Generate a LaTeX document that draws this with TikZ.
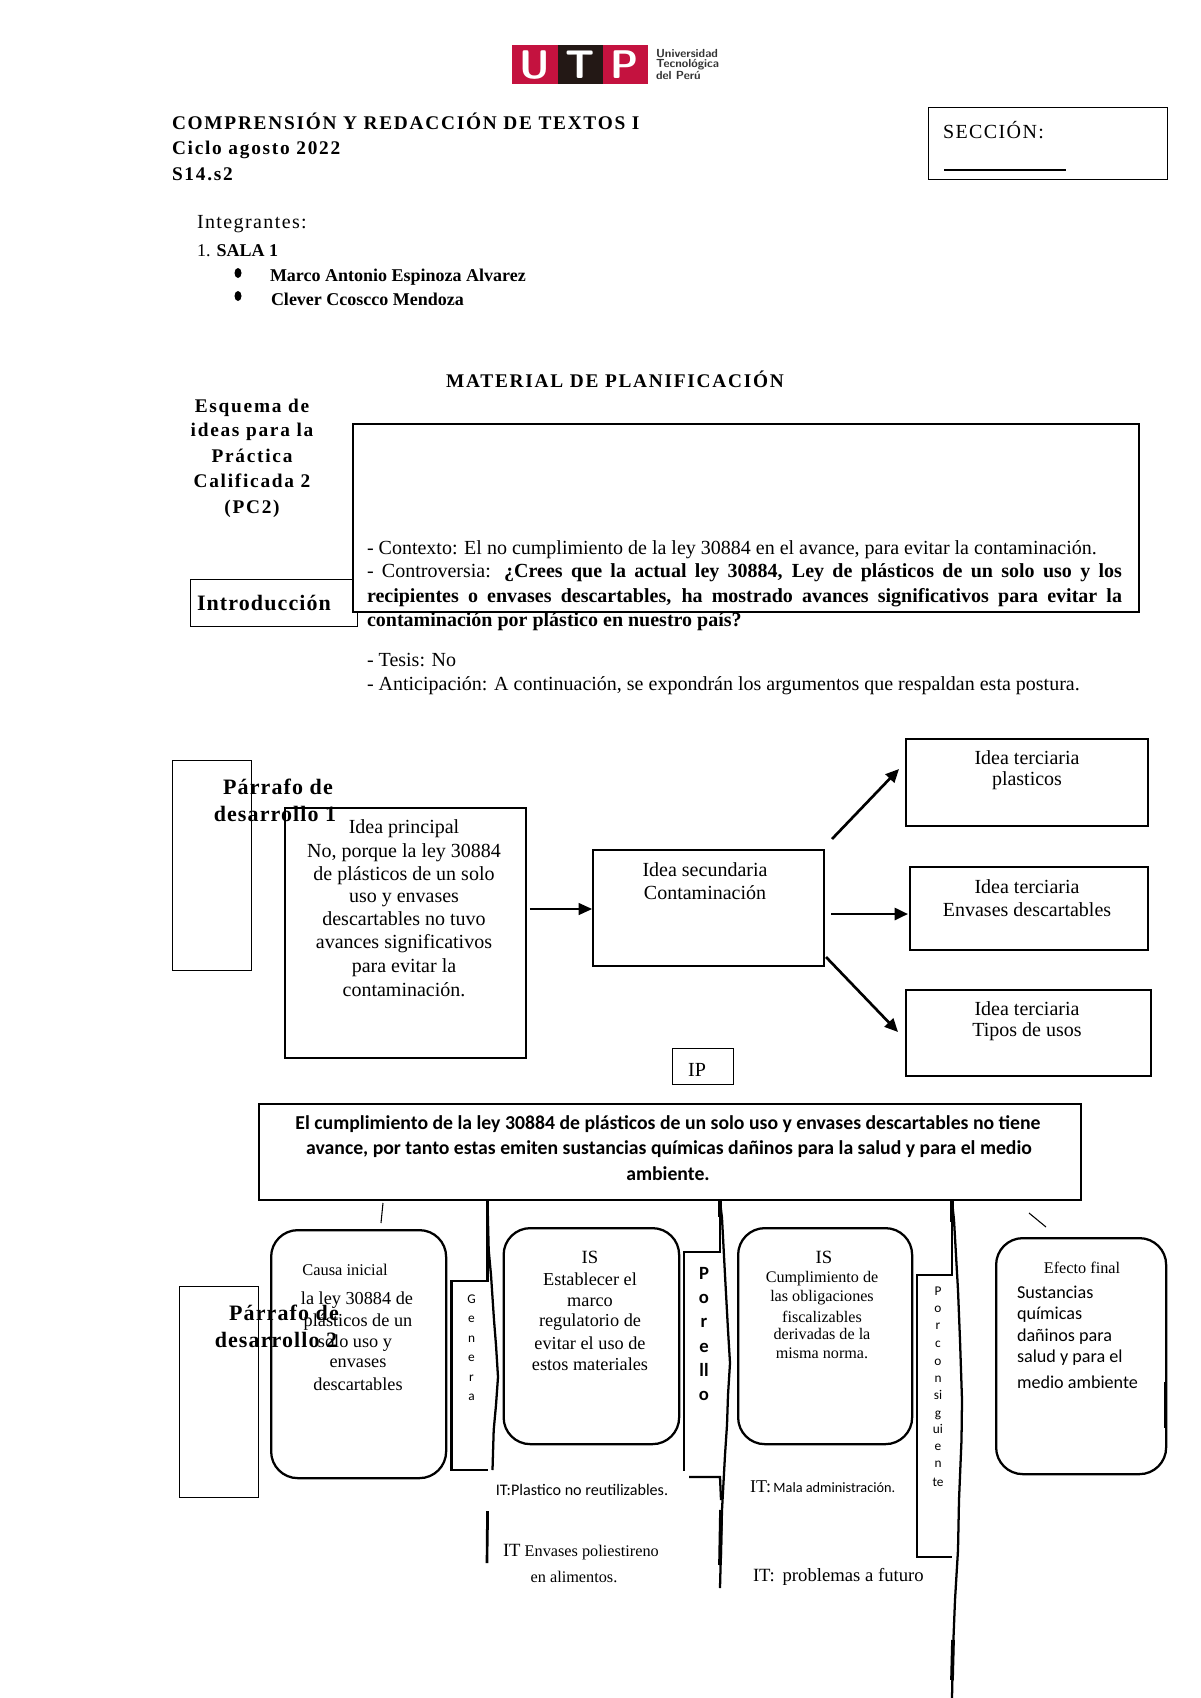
\documentclass[tikz,border=0pt]{standalone}
\usepackage{fontspec}
\setmainfont{Liberation Serif}
\newfontfamily\calib{Carlito}
\usetikzlibrary{arrows.meta}
\definecolor{utpred}{HTML}{C4123F}
\definecolor{utpblack}{HTML}{231815}
\newcommand{\fs}[1]{\fontsize{#1}{#1}\selectfont}
\newcommand{\fsl}[2]{\fontsize{#1}{#2}\selectfont}
\newcommand{\lsp}[1]{\addfontfeatures{LetterSpace=#1}}
\tikzset{
 txt/.style={inner sep=0pt,outer sep=0pt,font=\fs{15}},
 lt/.style={txt,anchor=west},
 ct/.style={txt,anchor=center,align=center},
 hd/.style={lt,font=\fs{14.5}\bfseries\lsp{9}},
 chd/.style={ct,font=\fs{14.5}\bfseries\lsp{9}},
 big head/.style={ct,font=\fs{16.5}\bfseries\lsp{5}},
 wide/.style={lt,font=\fs{15}\lsp{7}},
 thin box/.style={draw,line width=0.9pt,inner sep=0pt,anchor=north west},
 thick box/.style={draw,line width=1.7pt,inner sep=0pt,anchor=north west},
 rbox/.style={draw,line width=1.7pt,rounded corners=20pt},
 arr/.style={line width=#1,-{Triangle[length=10pt,width=9pt]}},
 arr/.default=2pt,
 brace/.style={line width=1.7pt},
 stub/.style={line width=2.8pt},
 letter/.style={txt,anchor=center,font=\calib\fs{10}},
 bletter/.style={txt,anchor=center,font=\calib\bfseries\fs{14}},
 cellbig/.style={ct,font=\fs{13.7}},
 cellmid/.style={ct,font=\fs{12.1}},
 thesis/.style={ct,font=\calib\bfseries\fs{14.8}},
 effect/.style={lt,font=\calib\fs{13.6}},
 logoletter/.style={txt,font=\fs{30}\bfseries\sffamily,text=white},
 logoname/.style={lt,font=\sffamily\bfseries\fs{8.8},text=black!80},
}
\newcommand{\boxat}[6]{\node[#1,minimum width=#4*0.75pt-#2*0.75pt,minimum height=#5*0.75pt-#3*0.75pt] (#6) at (#2,#3) {};}
\begin{document}
\begin{tikzpicture}[x=0.75pt,y=-0.75pt]
\useasboundingbox (0,0) rectangle (1200,1698);
% logo
\fill[utpred] (512,45) rectangle (648,84);
\fill[utpblack] (558,45) rectangle (603,84);
\node[logoletter] (lu) at (535,65) {U};
\node[logoletter] (lt) at (580,65) {T};
\node[logoletter] (lp) at (625,65) {P};
\node[logoname] (ln1) at (656,54) {Universidad};
\node[logoname] (ln2) at (656,65) {Tecnológica};
\node[logoname] (ln3) at (656,75) {del Perú};
% header
\node[hd] (t1) at (172,121) {COMPRENSIÓN Y REDACCIÓN DE TEXTOS I};
\node[hd] (t2) at (172,150) {Ciclo agosto 2022};
\node[hd] (t3) at (172,174) {S14.s2};
\boxat{thin box}{928}{107}{1167}{179}{sec}
\node[wide] (sect) at (943,130) {SECCIÓN:};
\coordinate (ula) at (944,170); \coordinate (ulb) at (1066,170);
\draw[line width=0.9pt] (ula) -- (ulb);
\node[wide] (int) at (197,224) {Integrantes:};
\node[lt,font=\fs{13.5}] (sala) at (197,251) {1. \textbf{SALA 1}};
\fill (238,273) ellipse (3.5 and 5);
\fill (238,296) ellipse (3.5 and 5);
\node[lt,font=\fs{13.5}\bfseries] (m1) at (270,277) {Marco Antonio Espinoza Alvarez};
\node[lt,font=\fs{13.5}\bfseries] (m2) at (271,299) {Clever Ccoscco Mendoza};
\node[chd] (mat) at (615,379) {MATERIAL DE PLANIFICACIÓN};
\node[chd] (e1) at (252,408) {Esquema de};
\node[chd] (e2) at (252,432) {ideas para la};
\node[chd] (e3) at (252,456) {Práctica};
\node[chd] (e4) at (252,481) {Calificada 2};
\node[chd] (e5) at (252,509) {(PC2)};
% intro
\boxat{thin box}{190}{579}{357}{626}{introbox}
\boxat{thick box,fill=white}{352}{423}{1138}{611}{ctx}
\node[big head,anchor=west] (introt) at (197,603) {Introducción};
\node[lt] (c1) at (367,550) {- Contexto: El no cumplimiento de la ley 30884 en el avance, para evitar la contaminación.};
\node[txt,anchor=north west,text width=755*0.75pt,align=justify,font=\fsl{15}{18.4}] (c2) at (367,564) {- Controversia: \textbf{¿Crees que la actual ley 30884, Ley de plásticos de un solo uso y los\linebreak recipientes o envases descartables, ha mostrado avances significativos para evitar la\linebreak contaminación por plástico en nuestro país?}};
\node[lt] (c3) at (367,660) {- Tesis: No};
\node[lt] (c4) at (367,686) {- Anticipación: A continuación, se expondrán los argumentos que respaldan esta postura.};
% parrafo 1
\boxat{thin box}{172}{760}{251}{970}{p1}
\boxat{thick box}{284}{807}{525}{1057}{ip}
\node[big head] (p1a) at (278,787) {Párrafo de};
\node[big head] (p1b) at (275,814) {desarrollo 1};
\node[ct] (ip1) at (404,829) {Idea principal};
\node[ct] (ip2) at (404,853) {No, porque la ley 30884};
\node[ct] (ip3) at (404,876) {de plásticos de un solo};
\node[ct] (ip4) at (404,900) {uso y envases};
\node[ct] (ip5) at (404,919) {descartables no tuvo};
\node[ct] (ip6) at (404,944) {avances significativos};
\node[ct] (ip7) at (404,968) {para evitar la};
\node[ct] (ip8) at (404,990) {contaminación.};
\boxat{thick box}{592}{849}{823}{965}{is}
\node[ct] (is1) at (705,870) {Idea secundaria};
\node[ct] (is2) at (705,893) {Contaminación};
\boxat{thick box}{905}{738}{1147}{825}{t1b}
\node[ct] (t1a) at (1027,758) {Idea terciaria};
\node[ct] (t1c) at (1027,781) {plasticos};
\boxat{thick box}{909}{866}{1147}{949}{t2b}
\node[ct] (t2a) at (1027,887) {Idea terciaria};
\node[ct] (t2c) at (1027,910) {Envases descartables};
\boxat{thick box}{905}{989}{1150}{1075}{t3b}
\node[ct] (t3a) at (1027,1009) {Idea terciaria};
\node[ct] (t3c) at (1027,1032) {Tipos de usos};
\draw[arr=0.8pt,shorten <=2pt] (ip.east |- 0,909) -- (is.west |- 0,909);
\coordinate (a1s) at (832,839); \coordinate (a1e) at (899,769);
\coordinate (a2s) at (831,914); \coordinate (a2e) at (908,914);
\coordinate (a3s) at (826,957); \coordinate (a3e) at (898,1032);
\draw[arr] (a1s) -- (a1e);
\draw[arr] (a2s) -- (a2e);
\draw[arr] (a3s) -- (a3e);
\boxat{thin box}{672}{1048}{733}{1084}{ipb}
\node[ct] (ipt) at (697,1070) {IP};
% tesis box
\boxat{thick box}{258}{1103}{1080}{1199}{big}
\node[thesis] (b1) at (668,1124) {El cumplimiento de la ley 30884 de plásticos de un solo uso y envases descartables no tiene};
\node[thesis] (b2) at (669,1149) {avance, por tanto estas emiten sustancias químicas dañinos para la salud y para el medio};
\node[thesis] (b3) at (668,1174) {ambiente.};
% parrafo 2
\boxat{thin box}{179}{1286}{258}{1497}{p2}
\node[rbox,minimum width=175*0.75pt,minimum height=248*0.75pt,anchor=north west,inner sep=0pt] (ci) at (270,1229) {};
\node[big head] (p2a) at (284,1313) {Párrafo de};
\node[big head] (p2b) at (276,1340) {desarrollo 2};
\node[ct,font=\fs{12.3}] (ci0) at (345,1270) {Causa inicial};
\node[cellbig] (ci1) at (357,1300) {la ley 30884 de};
\node[cellbig] (ci2) at (358,1322) {plásticos de un};
\node[cellbig] (ci3) at (355,1343) {solo uso y};
\node[cellbig] (ci4) at (358,1363) {envases};
\node[cellbig] (ci5) at (358,1384) {descartables};
\coordinate (k1a) at (383,1203); \coordinate (k1b) at (381,1223);
\draw[line width=0.8pt] (k1a) -- (k1b);
% genera
\coordinate (g0) at (487.5,1199); \coordinate (g1) at (488,1470); \coordinate (g2) at (487.5,1262);
\draw[brace] (g0 |- big.south) -- (487.5,1281) -- (451.6,1281) -- (451.6,1470) -- (g1);
\draw[brace] (g0 |- big.south) -- (488.7,1250) -- (491,1275) -- (494,1320) -- (496,1345) -- (498,1377) -- (496,1405) -- (493.7,1430) -- (492.5,1470);
\draw[stub] (g0) -- (g2);
\foreach \n/\l/\y in {a/G/1299,b/e/1319,c/n/1339,d/e/1358,e/r/1378,f/a/1397} \node[letter] (g\n) at (471.5,\y) {\l};
% IS 1
\node[rbox,minimum width=175.5*0.75pt,minimum height=216*0.75pt,anchor=north west,inner sep=0pt] (is1b) at (502.5,1227) {};
\node[ct,font=\fs{14}] (s1a) at (590,1257) {IS};
\node[cellbig] (s1b) at (590,1279) {Establecer el};
\node[cellbig] (s1c) at (590,1302) {marco};
\node[cellbig] (s1d) at (590,1322) {regulatorio de};
\node[cellbig] (s1e) at (590,1343) {evitar el uso de};
\node[cellbig] (s1f) at (590,1364) {estos materiales};
% por ello
\coordinate (po) at (720,1199); \coordinate (pe) at (720,1588); \coordinate (ps) at (720,1217);
\coordinate (pt1) at (721,1510); \coordinate (pt2) at (720,1565);
\draw[brace] (po |- big.south) -- (720,1252) -- (684,1252) -- (684,1471);
\draw[brace] (po |- big.south) -- (722,1218) -- (725,1275) -- (728,1330) -- (730,1363) -- (728,1395) -- (727,1425) -- (725,1455) -- (722,1510) -- (pe);
\draw[stub] (po) -- (ps);
\draw[stub] (pt1) -- (pt2);
\coordinate (pb) at (689,1477);
\draw[brace] (pb) -- (720,1477) -- (721,1500);
\foreach \n/\l/\y in {a/P/1273,b/o/1299,c/r/1323,d/e/1348,e/ll/1370,f/o/1396} \node[bletter] (pl\n) at (704,\y) {\l};
\node[ct,font=\calib\fs{12.1}] (it1) at (582,1490) {IT:Plastico no reutilizables.};
\coordinate (bar1) at (487.5,1511); \coordinate (bar2) at (487,1563); \coordinate (bar3) at (487.5,1530);
\draw[line width=2pt] (bar1) -- (bar2);
\draw[stub] (bar1) -- (bar3);
\node[lt,font=\fs{12.2}] (it2) at (503,1552) {{\fs{14}IT} Envases poliestireno};
\node[ct,font=\fs{12.2}] (it3) at (574,1577) {en alimentos.};
% IS 2
\node[rbox,minimum width=174*0.75pt,minimum height=216*0.75pt,anchor=north west,inner sep=0pt] (is2b) at (737,1227) {};
\node[ct,font=\fs{14}] (s2a) at (824,1257) {IS};
\node[cellmid] (s2b) at (822,1279) {Cumplimiento de};
\node[cellmid] (s2c) at (822,1298) {las obligaciones};
\node[cellmid] (s2d) at (822,1317) {fiscalizables};
\node[cellmid] (s2e) at (822,1334) {derivadas de la};
\node[cellmid] (s2f) at (822,1353) {misma norma.};
\node[lt] (it4) at (750,1487) {{\fs{13.5}IT:}{\calib\fs{10.7}\,Mala administración.}};
\node[lt,font=\fs{14}] (it5) at (753,1577) {IT:\, problemas a futuro};
% por consiguiente
\coordinate (c0) at (952,1199); \coordinate (ce) at (952,1698); \coordinate (cs1) at (952,1222);
\coordinate (cb1) at (953,1640); \coordinate (cb2) at (952,1680);
\draw[brace] (c0 |- big.south) -- (952,1275) -- (917,1275) -- (917,1557) -- (952,1557);
\draw[brace] (c0 |- big.south) -- (954,1220) -- (958,1290) -- (960,1340) -- (962,1400) -- (961.5,1440) -- (959,1500) -- (958,1550) -- (955,1600) -- (953,1650) -- (ce);
\draw[stub] (c0) -- (cs1);
\draw[stub] (cb1) -- (cb2);
\foreach \n/\l/\y in {a/P/1291,b/o/1309,c/r/1326,d/c/1344,e/o/1362,f/n/1379,g/si/1395,h/g/1415,i/ui/1429,j/e/1447,k/n/1464,l/te/1482} \node[letter] (cl\n) at (938,\y) {\l};
% efecto
\node[rbox,minimum width=170*0.75pt,minimum height=236*0.75pt,anchor=north west,inner sep=0pt] (ef) at (995,1237) {};
\coordinate (k2a) at (1029,1213); \coordinate (k2b) at (1046,1227);
\draw[line width=0.8pt] (k2a) -- (k2b);
\coordinate (x1) at (1165,1382); \coordinate (x2) at (1165,1428);
\draw[line width=2.2pt] (x1) -- (x2);
\node[ct,font=\fs{12.2}] (e0) at (1082,1268) {Efecto final};
\node[effect] (ea) at (1017,1292) {Sustancias};
\node[effect] (eb) at (1017,1315) {químicas};
\node[effect] (ec) at (1017,1337) {dañinos para};
\node[effect] (ed) at (1017,1358) {salud y para el};
\node[effect] (ee) at (1017,1382) {medio ambiente};
\end{tikzpicture}
\end{document}
